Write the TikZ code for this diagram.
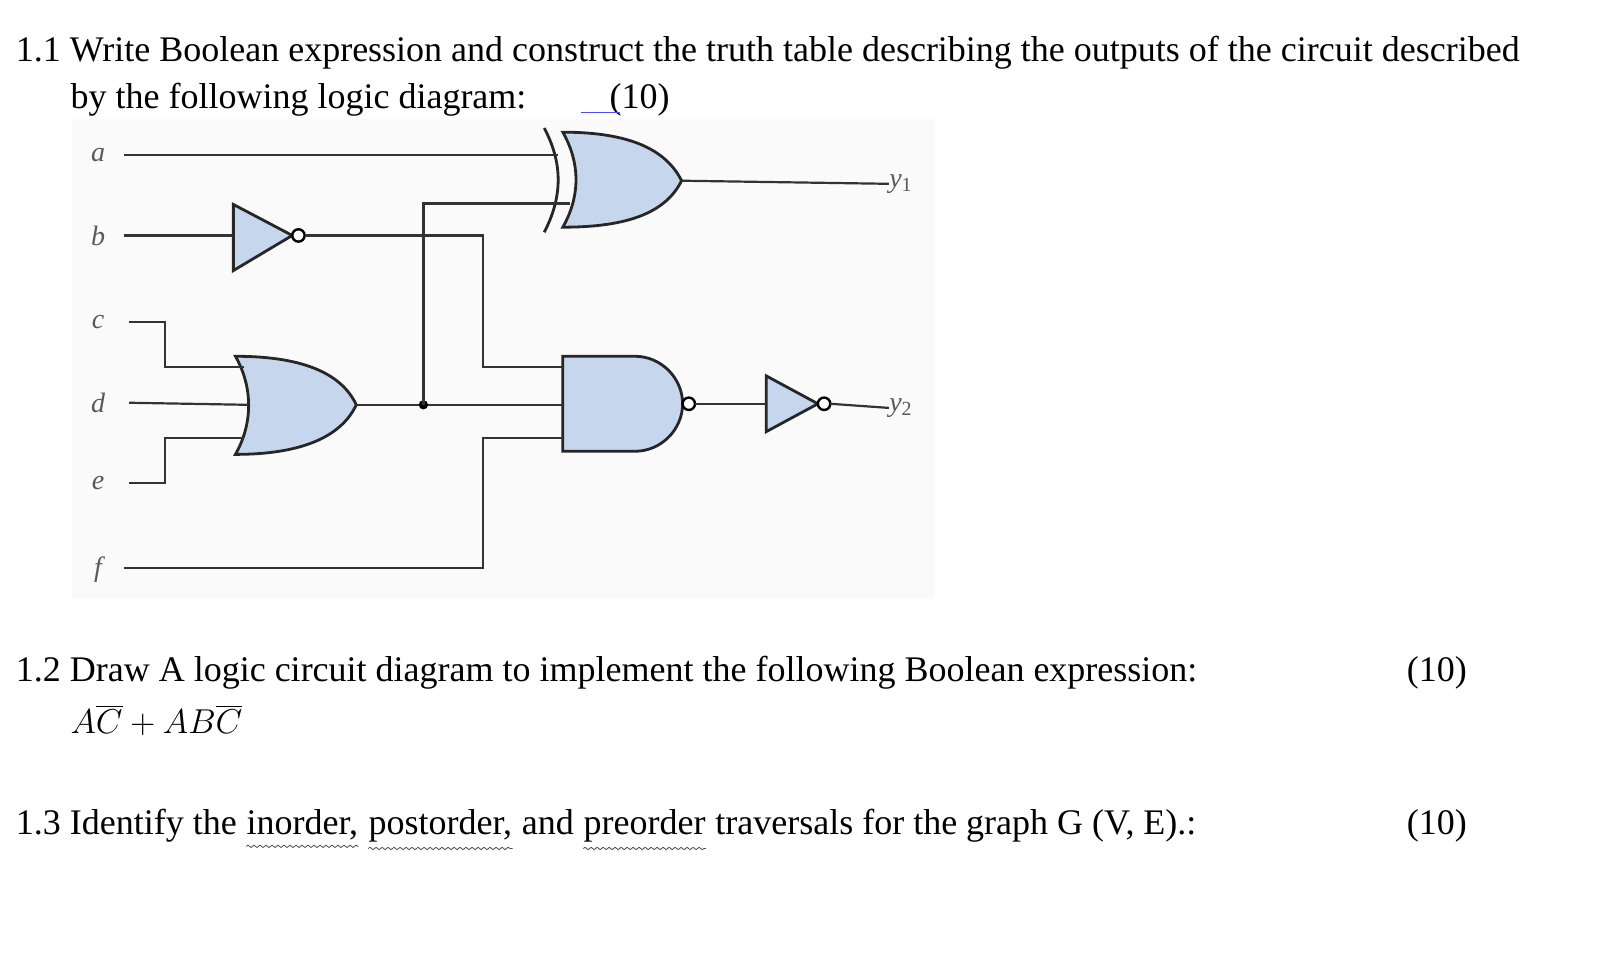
\documentclass[tikz,border=0pt]{standalone}
\usepackage{fontspec}
\setmainfont{Liberation Serif}
\usetikzlibrary{decorations.pathmorphing}
\begin{document}
\begin{tikzpicture}[x=0.5165pt,y=-0.5165pt,
  txt/.style={inner sep=0pt,anchor=base west,font=\fontsize{18}{21}\selectfont},
  wire/.style={line width=1.1pt,black!80},
  gate/.style={line width=1.4pt,black!85,fill={rgb,255:red,198;green,214;blue,236}},
  lbl/.style={inner sep=0pt,font=\fontsize{14}{16}\selectfont\itshape,text=black!65},
  wavy/.style={decorate,decoration={snake,amplitude=0.6pt,segment length=3pt},black!70,line width=0.4pt}]
\useasboundingbox (0,0) rectangle (1560,932);
\fill[black!2] (70,115) rectangle (905,580);
% text
\node[txt] (l1) at (15,60) {1.1 Write Boolean expression and construct the truth table describing the outputs of the circuit described};
\node[txt] (l2) at (68,105) {by the following logic diagram:};
\node[txt] (p1) at (590,105) {(10)};
\draw[blue!70,line width=0.6pt] (563,109) -- (600,109);
\node[txt] (l3) at (15,660) {1.2 Draw A logic circuit diagram to implement the following Boolean expression:};
\node[txt] (p2) at (1362,660) {(10)};
\node[txt] (ex) at (68,710) {$A\overline{C}+AB\overline{C}$};
\node[txt] (t1) at (15,808) {1.3 Identify the\kern.25em};
\node[txt] (w1) at (t1.base east) {inorder,};
\node[txt] (t2) at (w1.base east) {\kern.25em};
\node[txt] (w2) at (t2.base east) {postorder,};
\node[txt] (t3) at (w2.base east) {\kern.25em and\kern.25em};
\node[txt] (w3) at (t3.base east) {preorder};
\node[txt] (t4) at (w3.base east) {\kern.25em traversals for the graph G (V, E).:};
\node[txt] (p3) at (1362,808) {(10)};
\foreach \w in {w1,w2,w3}
  \draw[wavy] ([yshift=-3pt]\w.south west) -- ([yshift=-3pt]\w.south east);
% labels
\node[lbl] (la) at (95,150) {a};
\node[lbl] (lb) at (95,228) {b};
\node[lbl] (lc) at (95,312) {c};
\node[lbl] (ld) at (95,390) {d};
\node[lbl] (le) at (95,468) {e};
\node[lbl] (lf) at (95,552) {f};
\node[lbl] (ly1) at (872,178) {y\raisebox{-2pt}{\fontsize{10}{10}\selectfont\upshape 1}};
\node[lbl] (ly2) at (872,395) {y\raisebox{-2pt}{\fontsize{10}{10}\selectfont\upshape 2}};
% XOR gate
\draw[gate] (545,128) .. controls (610,128) and (645,145) .. (660,175) .. controls (645,205) and (610,220) .. (545,220) .. controls (562,190) and (562,158) .. cycle;
\draw[line width=1.4pt,black!85] (527,124) .. controls (545,158) and (545,190) .. (527,225);
% NOT b
\draw[gate] (226,198) -- (283,228) -- (226,262) -- cycle;
\draw[line width=1.2pt,fill=white] (289,228) circle (6);
% OR gate
\draw[gate] (228,345) .. controls (290,345) and (330,360) .. (345,392) .. controls (330,424) and (290,440) .. (228,440) .. controls (245,410) and (245,375) .. cycle;
% NAND gate
\draw[gate] (545,345) -- (615,345) .. controls (640,345) and (661,366) .. (661,391) .. controls (661,416) and (640,437) .. (615,437) -- (545,437) -- cycle;
\draw[line width=1.2pt,fill=white] (667,391) circle (6);
% NOT out
\draw[gate] (742,364) -- (792,391) -- (742,418) -- cycle;
\draw[line width=1.2pt,fill=white] (798,391) circle (6);
% wires
\draw[wire] (la) ++(25,0) -- (540,150);
\draw[wire] (660,175) -- (ly1.west);
\draw[wire] (lb) ++(25,0) -- (226,228);
\draw[wire] (295,228) -- (468,228) -- (468,355) -- (545,355);
\draw[wire] (lc) ++(30,0) -- (160,312) -- (160,355) -- (236,355);
\draw[wire] (ld) ++(30,0) -- (240,392);
\draw[wire] (le) ++(30,0) -- (160,468) -- (160,424) -- (236,424);
\draw[wire] (345,392) -- (545,392);
\fill (410,392) circle (4.5);
\draw[wire] (410,392) -- (410,197) -- (552,197);
\draw[wire] (lf) ++(25,-2) -- (468,550) -- (468,424) -- (545,424);
\draw[wire] (673,391) -- (742,391);
\draw[wire] (804,391) -- (ly2.west);
\end{tikzpicture}
\end{document}
